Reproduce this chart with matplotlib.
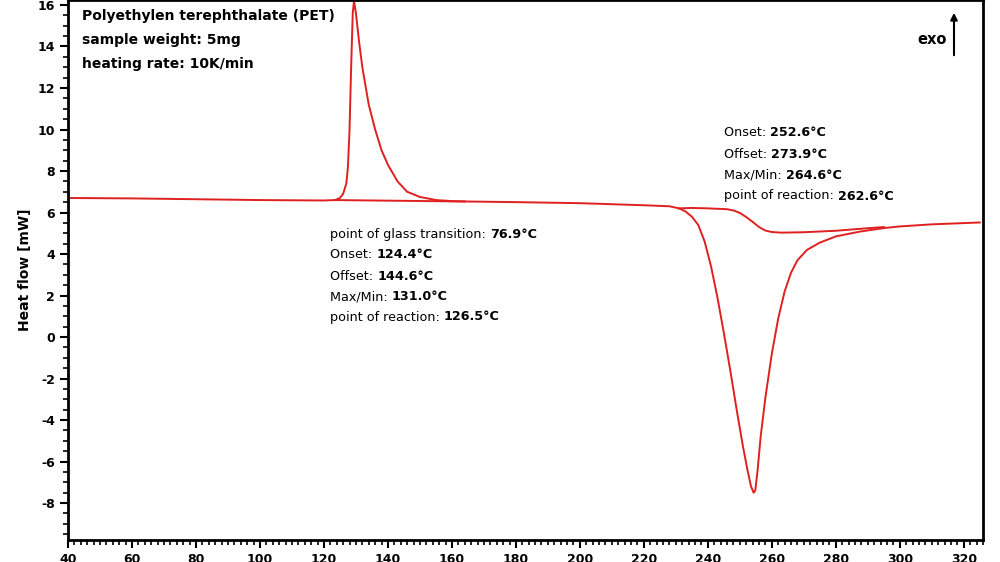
import numpy as np
import matplotlib.pyplot as plt
from matplotlib.ticker import MultipleLocator

plt.rcParams['font.family'] = ['DejaVu Sans']
plt.rcParams['axes.unicode_minus'] = False

# main heating curve (temperature, heat flow)
temp = [40, 60, 80, 100, 120, 123.5, 125, 126, 127, 127.5, 128, 128.5, 129, 129.4, 130, 131, 132, 134, 136,
        138, 140, 143, 146, 150, 155, 160, 165, 180, 200, 220, 228, 231, 233, 235, 237, 239, 241, 243,
        245, 247, 249, 251, 252.5, 253.5, 254.3, 254.8, 255.5, 256.5, 258, 260, 262, 264, 266, 268,
        271, 275, 280, 287.5, 295, 300, 310, 325]
flow = [6.7, 6.68, 6.64, 6.6, 6.58, 6.6, 6.7, 6.9, 7.4, 8.2, 10.0, 13.0, 15.6, 16.2, 15.6, 14.2, 13.0,
        11.2, 10.0, 9.0, 8.3, 7.5, 7.0, 6.75, 6.6, 6.55, 6.53, 6.5, 6.45, 6.35, 6.3, 6.2, 6.05, 5.8, 5.4,
        4.6, 3.4, 1.9, 0.2, -1.6, -3.5, -5.3, -6.5, -7.2, -7.5, -7.4, -6.5, -4.8, -2.9, -0.8, 0.9, 2.2,
        3.1, 3.7, 4.2, 4.55, 4.85, 5.08, 5.25, 5.33, 5.43, 5.52]

# baseline under crystallisation peak
base1_t = [123.5, 164]
base1_f = [6.6, 6.53]

# baseline under melting peak
base2_t = [231, 235, 240, 246, 248, 250, 252, 254, 256, 258, 260, 263, 270, 280, 288, 295]
base2_f = [6.2, 6.22, 6.2, 6.16, 6.1, 5.98, 5.78, 5.55, 5.3, 5.13, 5.06, 5.03, 5.05, 5.12, 5.22, 5.3]

title_lines = ["Polyethylen terephthalate (PET)", "sample weight: 5mg", "heating rate: 10K/min"]
left_labels = ["point of glass transition: ", "Onset: ", "Offset: ", "Max/Min: ", "point of reaction: "]
left_values = ["76.9°C", "124.4°C", "144.6°C", "131.0°C", "126.5°C"]
right_labels = ["Onset: ", "Offset: ", "Max/Min: ", "point of reaction: "]
right_values = ["252.6°C", "273.9°C", "264.6°C", "262.6°C"]

fig = plt.figure(figsize=(10, 5.62), dpi=100)
ax = fig.add_axes([0.068, 22 / 562, 0.915, 540 / 562])
red = "#e02020"
ax.plot(temp, flow, color=red, lw=1.4)
ax.plot(base1_t, base1_f, color=red, lw=1.4)
ax.plot(base2_t, base2_f, color=red, lw=1.4)

ax.set_xlim(40, 326)
ax.set_ylim(-9.78, 16.24)
ax.xaxis.set_major_locator(MultipleLocator(20))
ax.xaxis.set_minor_locator(MultipleLocator(2))
ax.yaxis.set_major_locator(MultipleLocator(2))
ax.yaxis.set_minor_locator(MultipleLocator(0.5))
ax.tick_params(which='major', length=6, width=1.5, labelsize=9)
ax.tick_params(which='minor', length=3.5, width=1.2)
for lab in ax.get_xticklabels() + ax.get_yticklabels():
    lab.set_fontweight('bold')
for s in ax.spines.values():
    s.set_linewidth(2)
ax.set_ylabel("Heat flow [mW]", fontsize=10, fontweight='bold', labelpad=4)

for i, t in enumerate(title_lines):
    fig.text(82 / 1000, 1 - (16 + 24 * i) / 562, t, fontsize=10, fontweight='bold', va='center')

fig.canvas.draw()
rend = fig.canvas.get_renderer()


def block(x, ys, labels, values):
    for y, l, v in zip(ys, labels, values):
        t = fig.text(x / 1000, 1 - y / 562, l, fontsize=9.2, va='center')
        w = t.get_window_extent(rend).width
        fig.text((x + w) / 1000, 1 - y / 562, v, fontsize=9.2, va='center', fontweight='bold')


block(330, [235, 255, 276, 297, 317], left_labels, left_values)
block(724, [133, 154, 175, 196], right_labels, right_values)

fig.text(947 / 1000, 1 - 40 / 562, "exo", fontsize=10.5, fontweight='bold', ha='right', va='center')
ax.annotate("", xy=(0.954, 1 - 10 / 562), xytext=(0.954, 1 - 58 / 562), xycoords='figure fraction',
            arrowprops=dict(arrowstyle='-|>', color='black', lw=1.5, mutation_scale=10))

fig.savefig("out.png", dpi=100)
